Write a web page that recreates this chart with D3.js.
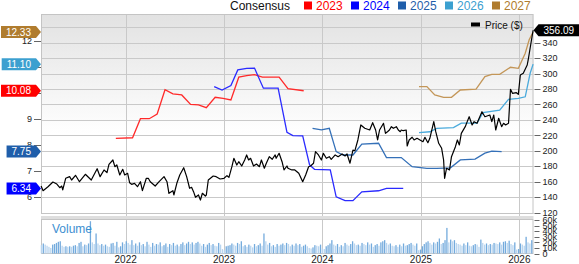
<!DOCTYPE html>
<html><head><meta charset="utf-8">
<script src="https://cdn.jsdelivr.net/npm/d3@7"></script>
<style>body{margin:0;background:#fff}svg{display:block;font-family:"Liberation Sans",Arial,sans-serif}</style>
</head><body><svg id="chart" width="579" height="264"></svg>
<script>
// ---------- data ----------
const yearTicks = [2022, 2023, 2024, 2025, 2026];
const priceTicks = [120, 140, 160, 180, 200, 220, 240, 260, 280, 300, 320, 340, 360];
const priceTickLabels = [120, 140, 160, 180, 200, 220, 240, 260, 280, 300, 320, 340];
const epsTicks = [6, 7, 8, 9, 10, 11, 12];
const epsTickLabels = [6, 7, 8, 9, 12];
const volumeTicks = [0, 10000, 20000, 30000, 40000, 50000, 60000];
const volumeTickLabels = ["0", "10k", "20k", "30k", "40k", "50k", "60k"];
const consensusYears = ["2023", "2024", "2025", "2026", "2027"];
const consensusColors = ["#ff0000", "#0000ff", "#1f5eaa", "#3ca0d0", "#b07c2e"];
const consensusLineColors = ["#ff2a2a", "#2a2aff", "#3470b8", "#4aaadc", "#c39658"];

// price (decimal year, $)
const priceDates = [2021.14,2021.16,2021.21,2021.26,2021.30,2021.33,2021.35,2021.36,2021.39,2021.43,2021.45,2021.49,2021.53,2021.59,2021.65,2021.71,2021.74,2021.78,2021.81,2021.83,2021.87,2021.89,2021.91,2021.94,2021.97,2021.99,
2022.02,2022.04,2022.06,2022.09,2022.12,2022.15,2022.17,2022.21,2022.23,2022.25,2022.30,2022.34,2022.39,2022.42,2022.44,2022.48,2022.49,2022.52,2022.55,2022.59,2022.62,2022.65,2022.67,2022.69,2022.71,2022.74,2022.76,2022.78,2022.81,2022.82,2022.84,2022.89,2022.92,2022.96,
2023.00,2023.03,2023.05,2023.08,2023.10,2023.13,2023.15,2023.18,2023.21,2023.23,2023.25,2023.27,2023.30,2023.33,2023.36,2023.38,2023.41,2023.43,2023.46,2023.49,2023.52,2023.53,2023.56,2023.59,2023.61,2023.64,2023.65,2023.69,2023.72,2023.76,2023.80,2023.83,2023.86,2023.88,2023.91,2023.93,2023.96,2023.99,
2024.01,2024.04,2024.07,2024.09,2024.13,2024.16,2024.20,2024.23,2024.25,2024.28,2024.31,2024.33,2024.36,2024.39,2024.43,2024.48,2024.51,2024.54,2024.56,2024.58,2024.62,2024.64,2024.66,2024.68,2024.70,2024.72,2024.75,2024.77,2024.79,2024.80,2024.82,2024.85,2024.86,2024.88,2024.91,2024.93,2024.96,2024.99,
2025.02,2025.04,2025.07,2025.09,2025.13,2025.15,2025.18,2025.21,2025.23,2025.24,2025.26,2025.29,2025.31,2025.35,2025.37,2025.39,2025.41,2025.45,2025.47,2025.49,2025.52,2025.54,2025.57,2025.62,2025.65,2025.70,2025.72,2025.74,2025.76,2025.79,2025.82,2025.84,2025.86,2025.89,2025.91,2025.93,2025.97,2025.99,
2026.01,2026.04,2026.08,2026.09,2026.11,2026.14];
const priceValues = [154.5,148.5,153.6,159.7,157.1,152.3,154.5,149.4,164.5,166.6,162.3,168.4,160.1,169.7,162.3,176.9,166.6,175.3,171.8,182.6,188.2,179.5,181.7,168.8,176.2,168.8,
171.0,158.8,156.7,158.0,153.6,160.1,148.5,164.5,164.5,160.1,154.5,160.1,166.6,160.1,145.1,148.5,142.9,158.0,168.8,178.2,166.6,151.6,152.9,147.2,139.9,142.9,136.4,145.1,141.6,142.9,162.3,167.5,166.6,163.6,
164.5,167.9,165.8,179.5,190.4,181.7,186.0,180.4,188.2,194.7,188.2,190.4,180.4,183.0,179.5,188.2,177.5,184.0,192.5,189.1,194.7,190.4,196.9,186.0,175.3,180.4,177.5,175.3,175.3,171.0,160.1,168.8,179.5,180.4,184.0,198.9,194.7,188.2,
196.9,190.4,192.5,189.1,194.7,192.5,196.0,193.4,196.0,184.0,201.1,200.2,214.1,233.5,229.2,227.0,236.5,227.0,214.1,227.0,235.7,222.7,224.8,227.0,231.3,229.2,231.3,227.0,224.8,227.0,226.1,227.0,206.3,214.1,217.6,214.1,216.3,214.1,
211.9,217.6,210.6,216.3,237.8,224.8,209.8,203.3,188.2,164.5,177.5,175.3,192.5,205.4,214.1,207.6,222.7,231.3,237.8,244.2,233.5,237.8,235.7,250.7,244.2,246.4,237.8,246.4,227.0,242.2,231.3,235.7,233.5,235.7,279.7,274.5,275.3,273.2,
298.2,300.4,311.1,317.6,333.1,356.09];

// consensus EPS estimates (decimal year, $/share)
const eps2023Dates  = [2021.90,2022.07,2022.15,2022.24,2022.32,2022.40,2022.48,2022.57,2022.66,2022.74,2022.82,2022.91,2022.99,2023.07,2023.15,2023.23,2023.31,2023.39,2023.56,2023.65,2023.81];
const eps2023Values = [8.26,8.28,9.01,9.01,9.19,10.12,9.96,9.92,9.56,9.54,9.43,9.83,9.79,9.73,10.60,10.66,10.70,10.60,10.60,10.16,10.08];
const eps2024Dates  = [2022.90,2022.98,2023.07,2023.14,2023.23,2023.31,2023.40,2023.55,2023.64,2023.70,2023.80,2023.87,2023.92,2024.08,2024.14,2024.23,2024.31,2024.40,2024.57,2024.65,2024.82];
const eps2024Values = [10.24,10.11,10.28,10.88,10.94,10.95,10.18,10.18,8.49,8.36,8.35,7.24,7.07,7.05,6.02,5.87,5.87,6.21,6.25,6.34,6.34];
const eps2025Dates  = [2023.90,2023.99,2024.07,2024.14,2024.21,2024.31,2024.40,2024.57,2024.65,2024.80,2024.91,2025.06,2025.16,2025.30,2025.40,2025.55,2025.65,2025.72,2025.82];
const eps2025Values = [8.64,8.58,8.64,7.75,7.62,7.62,8.04,8.07,7.52,7.52,7.17,7.11,7.11,7.13,7.43,7.46,7.69,7.77,7.75];
const eps2026Dates  = [2024.98,2025.09,2025.16,2025.33,2025.41,2025.57,2025.63,2025.80,2025.89,2025.99,2026.06,2026.11,2026.14];
const eps2026Values = [8.48,8.51,8.64,8.67,8.84,8.84,9.24,9.34,9.75,9.79,9.85,10.75,11.10];
const eps2027Dates  = [2024.98,2025.06,2025.14,2025.23,2025.31,2025.40,2025.56,2025.65,2025.72,2025.80,2025.91,2025.99,2026.06,2026.10,2026.14];
const eps2027Values = [10.24,10.24,9.92,9.83,9.83,10.11,10.14,10.62,10.71,10.71,10.98,10.94,11.52,12.03,12.33];

// weekly volume (thousands), first week starting:
const volumeStart = "2021-02-22";
const volumeValues = [15,18,16,14,12,10,16,17,19,21, 22,14,12,13,12,13,12,14,15,13, 19,21,13,16,15,18,58,20,17,36,
18,15,17,14,16,13,12,18,19,14, 21,11,13,20,17,22,19,16,24,15, 18,14,20,15,17,13,21,16,12,19, 14,17,16,20,13,15,18,12,17,15,
19,14,16,13,17,20,15,18,21,17, 20,16,19,21,18,14,17,12,16,19, 15,17,14,13,19,16,8,6,13,14, 15,18,16,14,19,17,22,13,15,
12,16,14,11,17,13,15,18,14,36, 22,16,19,13,15,12,17,14,16,18, 15,19,17,13,16,14,18,15,17,12, 14,16,13,10,9,11,15,14,13,16,
9,8,13,15,18,24,16,14,17,12, 15,13,19,16,14,17,22,18,15,16, 14,19,17,15,20,16,18,12,15, 17,14,20,22,24,19,16,18,14,13,
15,12,16,13,18,14,15,17,19,16, 14,18,6,7,13,17,20,22,19, 16,20,18,21,27,17,19,24,46,20, 25,22,24,19,17,16,14,18,15,20,
14,13,15,17,16,12,25,19,16,18, 15,17,16,19,18,17,20,16,21, 22,19,23,17,15,20,7,8,18,16, 14,30,20,18,24];

// ---------- drawing ----------
const svg = d3.select("#chart");
const L = 41, R = 533.5, T = 14, B = 214, VT = 219, VB = 253.5;

function dy(v) {
  const y = Math.floor(v);
  const s = Date.UTC(y, 0, 1), e = Date.UTC(y + 1, 0, 1);
  return new Date(s + (v - y) * (e - s));
}
const x = d3.scaleUtc().domain([dy(2021.139), dy(2026.144)]).range([L, R]);
const yP = d3.scaleLinear().domain([118.3, 377.1]).range([B, T]);
const yE = d3.scaleLinear().domain([5.36, 13.02]).range([B, T]);
const yV = d3.scaleLinear().domain([0, 62000]).range([VB, VT]);

const defs = svg.append("defs");
const grad = defs.append("linearGradient").attr("id", "bg").attr("x1", 0).attr("y1", 0).attr("x2", 0).attr("y2", 1);
grad.append("stop").attr("offset", 0).attr("stop-color", "#e2e2e2");
grad.append("stop").attr("offset", 0.6).attr("stop-color", "#ffffff");

svg.append("rect").attr("x", L).attr("y", T).attr("width", R - L).attr("height", B - T).attr("fill", "url(#bg)");

const gridC = "#c9c9c9";
svg.append("g").selectAll("line").data(priceTicks).join("line")
  .attr("x1", L).attr("x2", R)
  .attr("y1", d => Math.round(yP(d)) + 0.5).attr("y2", d => Math.round(yP(d)) + 0.5)
  .attr("stroke", gridC);
svg.append("g").selectAll("line").data(yearTicks).join("line")
  .attr("x1", d => Math.round(x(dy(d))) + 0.5).attr("x2", d => Math.round(x(dy(d))) + 0.5)
  .attr("y1", T).attr("y2", VB)
  .attr("stroke", gridC);

svg.append("rect").attr("x", L).attr("y", 216).attr("width", R - L).attr("height", 3).attr("fill", "#dedede");

svg.append("rect").attr("x", L + 0.5).attr("y", T + 0.5).attr("width", R - L - 1).attr("height", B - T - 1)
  .attr("fill", "none").attr("stroke", "#c4c4c4");
svg.append("rect").attr("x", L + 0.5).attr("y", VT + 0.5).attr("width", R - L - 1).attr("height", VB - VT - 0.5)
  .attr("fill", "none").attr("stroke", "#c4c4c4");

const vStart = new Date(volumeStart + "T00:00:00Z");
svg.append("g").selectAll("rect").data(volumeValues).join("rect")
  .attr("x", (d, i) => x(d3.utcDay.offset(vStart, 7 * i)) - 0.6)
  .attr("width", 1.3)
  .attr("y", d => yV(d * 1000))
  .attr("height", d => yV(0) - yV(d * 1000))
  .attr("fill", (d, i) => (i > 0 && d >= volumeValues[i - 1]) ? "#74abdd" : "#b9d5ef");

svg.append("text").attr("x", 52).attr("y", 233).attr("font-size", 12).attr("fill", "#3d8fd1").text("Volume");

const epsSeries = [
  [eps2023Dates, eps2023Values], [eps2024Dates, eps2024Values], [eps2025Dates, eps2025Values],
  [eps2026Dates, eps2026Values], [eps2027Dates, eps2027Values]
];
const lineE = d3.line().x(d => x(dy(d[0]))).y(d => yE(d[1]));
epsSeries.forEach((s, k) => {
  svg.append("path").datum(d3.zip(s[0], s[1]))
    .attr("d", lineE).attr("fill", "none").attr("stroke", consensusLineColors[k]).attr("stroke-width", 1.3);
});

const lineP = d3.line().x(d => x(dy(d[0]))).y(d => yP(d[1]));
svg.append("path").datum(d3.zip(priceDates, priceValues))
  .attr("d", lineP).attr("fill", "none").attr("stroke", "#000").attr("stroke-width", 1.2).attr("stroke-linejoin", "round");

const tickC = "#666";
svg.append("g").selectAll("line").data(priceTickLabels).join("line")
  .attr("x1", R + 1).attr("x2", R + 7)
  .attr("y1", d => Math.round(yP(d)) + 0.5).attr("y2", d => Math.round(yP(d)) + 0.5).attr("stroke", tickC);
svg.append("g").selectAll("text").data(priceTickLabels).join("text")
  .attr("x", R + 9).attr("y", d => yP(d)).attr("dy", "0.35em")
  .attr("font-size", 9).attr("fill", "#222").text(d => d);

svg.append("g").selectAll("line").data(volumeTicks).join("line")
  .attr("x1", R + 1).attr("x2", R + 6)
  .attr("y1", d => Math.round(yV(d)) + 0.5).attr("y2", d => Math.round(yV(d)) + 0.5).attr("stroke", tickC);
svg.append("g").selectAll("text").data(volumeTicks).join("text")
  .attr("x", R + 9).attr("y", d => yV(d)).attr("dy", "0.35em")
  .attr("font-size", 9).attr("fill", "#222").text((d, i) => volumeTickLabels[i]);

svg.append("g").selectAll("line").data(epsTicks).join("line")
  .attr("x1", L - 7).attr("x2", L)
  .attr("y1", d => Math.round(yE(d)) + 0.5).attr("y2", d => Math.round(yE(d)) + 0.5).attr("stroke", tickC);
svg.append("g").selectAll("text").data(epsTickLabels).join("text")
  .attr("x", L - 9).attr("y", d => yE(d)).attr("dy", "0.35em").attr("text-anchor", "end")
  .attr("font-size", 9).attr("fill", "#222").text(d => d);

svg.append("g").selectAll("text").data(yearTicks).join("text")
  .attr("x", d => x(dy(d))).attr("y", 263).attr("text-anchor", "middle")
  .attr("font-size", 10).attr("fill", "#222").text(d => d);

epsSeries.forEach((s, k) => {
  const v = s[1][s[1].length - 1];
  const cy = yE(v);
  const g = svg.append("g");
  const poly = g.append("path").attr("fill", consensusColors[k]);
  const t = g.append("text").attr("x", 31).attr("y", cy).attr("dy", "0.35em").attr("text-anchor", "end")
    .attr("font-size", 10).attr("fill", "#fff").text(d3.format(".2f")(v));
  const w = t.node().getComputedTextLength();
  const x0 = Math.max(0, 31 - w - 5);
  poly.attr("d", `M${x0},${cy - 6}H36L41,${cy}L36,${cy + 6}H${x0}Z`);
});

{
  const v = priceValues[priceValues.length - 1];
  const cy = yP(v);
  svg.append("path").attr("d", `M${R},${cy}L${R + 5},${cy - 6}H579V${cy + 6}H${R + 5}Z`).attr("fill", "#000");
  svg.append("text").attr("x", R + 10).attr("y", cy).attr("dy", "0.35em").attr("font-size", 10).attr("fill", "#fff")
    .text(d3.format(".2f")(v));
}

svg.append("text").attr("x", 230).attr("y", 9.5).attr("font-size", 12).attr("fill", "#111").text("Consensus");
const leg = svg.append("g").selectAll("g").data(consensusYears).join("g")
  .attr("transform", (d, i) => `translate(${304 + i * 47},0)`);
leg.append("rect").attr("x", 0).attr("y", 1.5).attr("width", 8).attr("height", 8).attr("fill", (d, i) => consensusColors[i]);
leg.append("text").attr("x", 12).attr("y", 9.5).attr("font-size", 12).attr("fill", (d, i) => consensusColors[i]).text(d => d);

svg.append("rect").attr("x", 471).attr("y", 22.5).attr("width", 9).attr("height", 4).attr("fill", "#000");
svg.append("text").attr("x", 485).attr("y", 29).attr("font-size", 10).attr("fill", "#111").text("Price ($)");
</script></body></html>
